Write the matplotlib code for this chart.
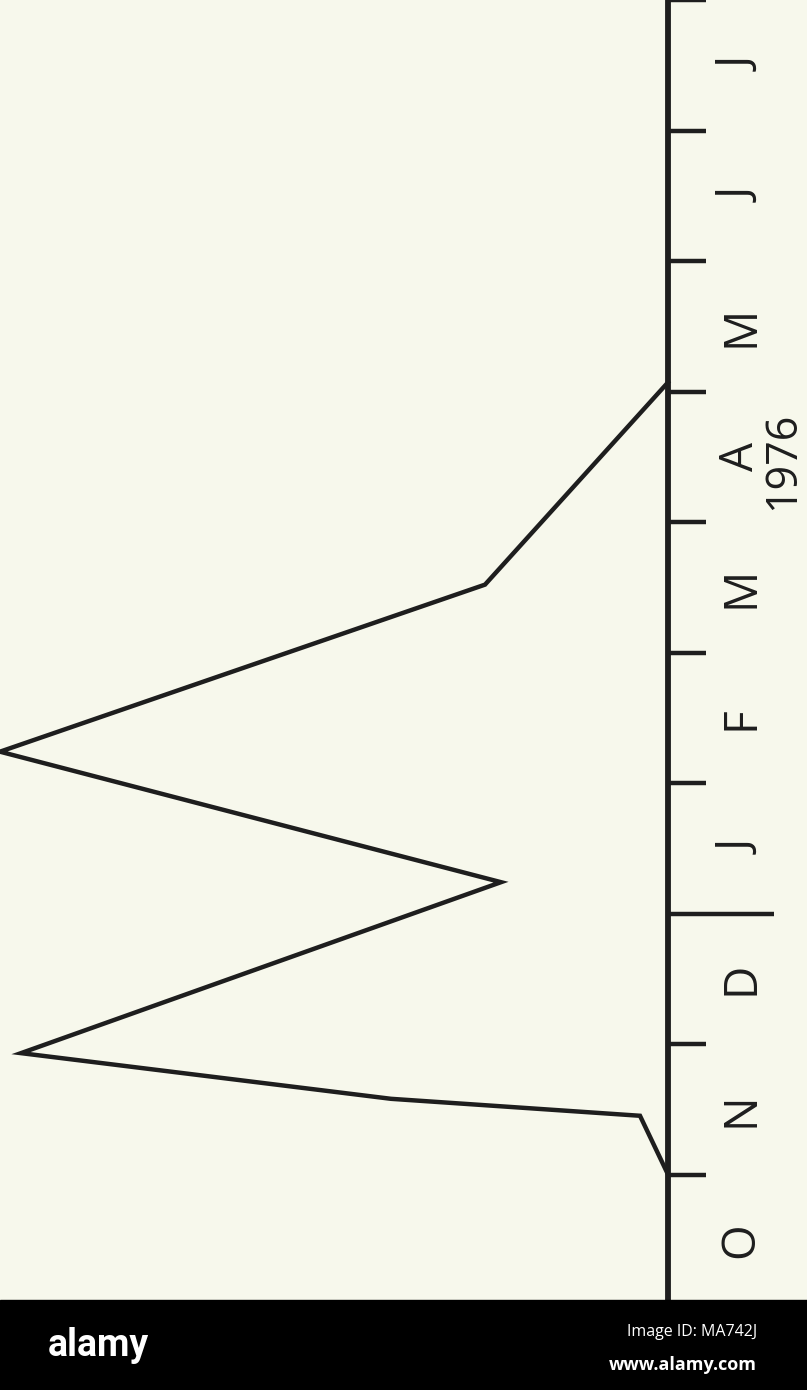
import matplotlib.pyplot as plt
from matplotlib.patches import Rectangle

# months from Oct 1975 (t=0) to Aug 1976 (t=10)
months = ['O', 'N', 'D', 'J', 'F', 'M', 'A', 'M', 'J', 'J']
month_mid = [i + 0.5 for i in range(len(months))]
boundaries = [1, 2, 4, 5, 6, 7, 8, 9, 10]   # month boundary ticks
year_tick = [3]                             # Dec/Jan, longer tick
year_label = '1976'

# sampling times (months since Oct 1) and values (arbitrary units)
t_sample = [1.0, 1.45, 1.58, 1.93, 3.24, 4.24, 5.52, 7.07]
value = [0, 28, 277, 647, 167, 668, 183, 0]

bg = '#f7f8ec'
ink = '#1e1e1e'
lab_font = ['Open Sans', 'DejaVu Sans']

fig = plt.figure(figsize=(8.07, 13.9), dpi=100, facecolor=bg)
ax = fig.add_axes([0, 85 / 1390, 668 / 807, 1305 / 1390])
ax.set_facecolor(bg)

# value increases to the left, time runs upward
ax.plot(value, t_sample, color=ink, lw=3.2, solid_joinstyle='miter', clip_on=False)
ax.set_xlim(668, 0)
ax.set_ylim(0, 10)

for s in ['left', 'top', 'bottom']:
    ax.spines[s].set_visible(False)
ax.spines['right'].set_linewidth(4.2)
ax.spines['right'].set_color(ink)
ax.set_xticks([])

ax.yaxis.tick_right()
ax.set_yticks(month_mid)
ax.set_yticklabels(months, rotation=90, va='center', family=lab_font,
                   fontsize=33, color=ink)
ax.tick_params(axis='y', which='major', length=0, pad=36)
ax.set_yticks(boundaries, minor=True)
ax.tick_params(axis='y', which='minor', length=27, width=3.2, color=ink, direction='out')

sec = ax.secondary_yaxis('right')
sec.set_yticks(year_tick)
sec.set_yticklabels([''])
sec.tick_params(length=76, width=3.2, color=ink)
sec.spines['right'].set_visible(False)

ax.text(1.172, 6.47, year_label, transform=ax.get_yaxis_transform(), rotation=90,
        ha='center', va='center', fontsize=31, family=lab_font, color=ink)

# stock-image footer band
fig.add_artist(Rectangle((0, 0), 1, 90 / 1390, transform=fig.transFigure,
                         color='black', zorder=10))
fig.text(48 / 807, 45 / 1390, 'alamy', color='white', fontsize=27, fontweight='bold',
         family=['Roboto', 'DejaVu Sans'], va='center', ha='left', zorder=11)
fig.text(757 / 807, 58 / 1390, 'Image ID: MA742J', color='white', fontsize=11.5,
         family=lab_font, va='center', ha='right', zorder=11)
fig.text(757 / 807, 25 / 1390, 'www.alamy.com', color='white', fontsize=13,
         fontweight='bold', family=lab_font, va='center', ha='right', zorder=11)

fig.savefig('out.png', dpi=100, facecolor=bg)
